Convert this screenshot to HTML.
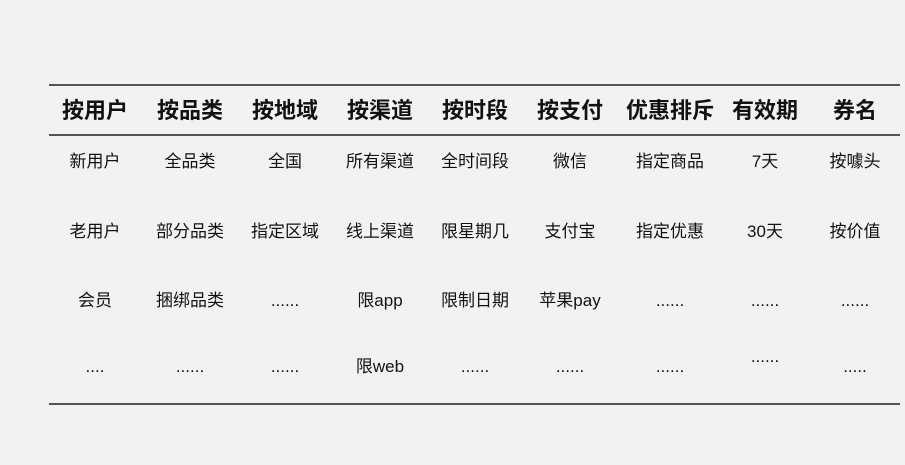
<!DOCTYPE html>
<html><head><meta charset="utf-8"><style>
html,body{margin:0;padding:0;}
body{width:905px;height:465px;background:#f2f2f2;position:relative;overflow:hidden;font-family:"Liberation Sans","Noto Sans CJK SC",sans-serif;color:#111;}
.l{position:absolute;left:49px;width:851px;height:2px;background:#555;}
.t{position:absolute;width:100px;margin-left:-50px;text-align:center;white-space:nowrap;line-height:1;}
.h{font-size:22px;font-weight:bold;}
.b{font-size:17px;}
</style></head><body>
<div class="l" style="top:84px"></div>
<div class="l" style="top:134px"></div>
<div class="l" style="top:403px"></div>
<div id="c"></div>
<script>
var xs=[95,190,285,380,475,570,670,765,855];
var rows=[
[100,"h",["按用户","按品类","按地域","按渠道","按时段","按支付","优惠排斥","有效期","券名"]],
[153,"b",["新用户","全品类","全国","所有渠道","全时间段","微信","指定商品","7天","按噱头"]],
[223,"b",["老用户","部分品类","指定区域","线上渠道","限星期几","支付宝","指定优惠","30天","按价值"]],
[292,"b",["会员","捆绑品类","......","限app","限制日期","苹果pay","......","......","......"]],
[358,"b",["....","......","......","限web","......","......","......","......","....."]]];
var h="";
rows.forEach(function(r){r[2].forEach(function(s,i){var y=r[0];if(r[2]===rows[4][2]&&i==7)y=348;h+='<div class="t '+r[1]+'" style="left:'+xs[i]+'px;top:'+y+'px">'+s+'</div>';});});
document.getElementById("c").innerHTML=h;
</script>
</body></html>
